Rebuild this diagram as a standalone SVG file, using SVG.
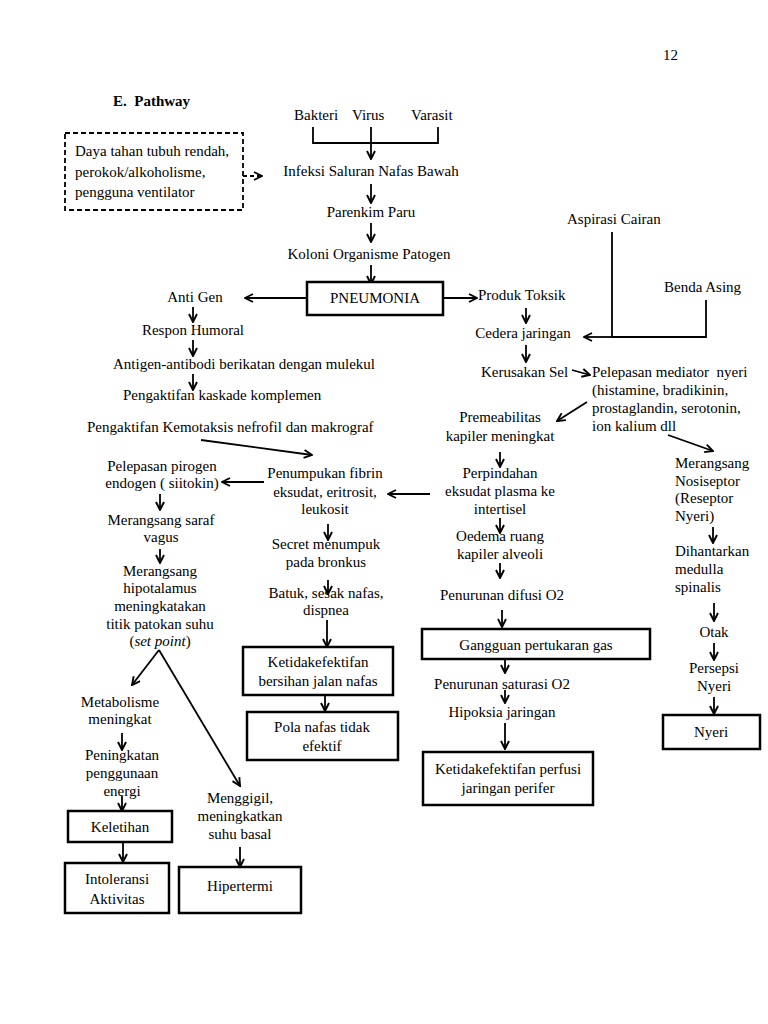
<svg xmlns="http://www.w3.org/2000/svg" width="768" height="1024" viewBox="0 0 768 1024" font-family="'Liberation Serif', 'Times New Roman', 'DejaVu Serif', serif">
<defs>
<marker id="ah" viewBox="0 0 10 10" refX="9" refY="5" markerWidth="10" markerHeight="10" markerUnits="userSpaceOnUse" orient="auto">
<path d="M1,1 L9,5 L1,9" fill="none" stroke="#000" stroke-width="1.9"/>
</marker>
</defs>
<style>
text{font-family:'Liberation Serif','Times New Roman','DejaVu Serif',serif;font-size:15px;fill:#000}
.c{text-anchor:middle}
.b{font-weight:bold}
.ln{stroke:#000;stroke-width:1.8;fill:none}
.ar{stroke:#000;stroke-width:1.8;fill:none;marker-end:url(#ah)}
.box{fill:#fff;stroke:#000;stroke-width:2.5}
.dash{fill:none;stroke:#000;stroke-width:1.8;stroke-dasharray:5,3}
</style>
<rect width="768" height="1024" fill="#fff"/>
<text x="663" y="60">12</text>
<text x="113" y="106" class="b" xml:space="preserve">E.  Pathway</text>

<g id="connectors">
<path class="ln" d="M313,127 V143 H438 V127"/>
<path class="ar" d="M371,127 V159"/>
<path class="ar" d="M243,176 H262" stroke-dasharray="4,3"/>
<path class="ar" d="M371,184 V203"/>
<path class="ar" d="M371,223 V242"/>
<path class="ar" d="M371,265 V284"/>
<path class="ar" d="M307,298 H245"/>
<path class="ar" d="M443,298 H477"/>
<path class="ar" d="M193,307 V322"/>
<path class="ar" d="M193,340 V356"/>
<path class="ar" d="M193,374 V390"/>
<path class="ar" d="M201,440 L312,455"/>
<path class="ar" d="M264,482 H222"/>
<path class="ar" d="M430,494 H388"/>
<path class="ar" d="M160,494 V510"/>
<path class="ar" d="M160,549 V563"/>
<path class="ar" d="M159,650 L240,786"/>
<path class="ar" d="M159,650 L132,685"/>
<path class="ar" d="M122,733 V750"/>
<path class="ar" d="M122,796 V811"/>
<path class="ar" d="M123,842 V862"/>
<path class="ar" d="M240,847 V867"/>
<path class="ar" d="M328,524 V540"/>
<path class="ar" d="M328,580 V594"/>
<path class="ar" d="M327,620 V647"/>
<path class="ar" d="M325,696 V711"/>
<path class="ar" d="M526,308 V323"/>
<path class="ar" d="M526,345 V362"/>
<path class="ar" d="M572,370 L590,375"/>
<path class="ln" d="M612,232 V337 M706,300 V337 H612"/>
<path class="ar" d="M612,337 H584"/>
<path class="ar" d="M587,402 L557,421"/>
<path class="ar" d="M668,435 L713,451"/>
<path class="ar" d="M500,452 V467"/>
<path class="ar" d="M500,518 V533"/>
<path class="ar" d="M500,563 V578"/>
<path class="ar" d="M502,610 V627"/>
<path class="ar" d="M505,660 V673"/>
<path class="ar" d="M505,690 V703"/>
<path class="ar" d="M505,723 V749"/>
<path class="ar" d="M713,527 V543"/>
<path class="ar" d="M714,603 V621"/>
<path class="ar" d="M714,643 V660"/>
<path class="ar" d="M714,697 V714"/>
</g>

<g id="n-sources">
<text x="294" y="120">Bakteri</text>
<text x="352" y="120">Virus</text>
<text x="411" y="120">Varasit</text>
</g>
<g id="n-risk">
<rect x="65" y="133" width="178" height="77" class="dash"/>
<text x="75" y="156">Daya tahan tubuh rendah,</text>
<text x="75" y="177">perokok/alkoholisme,</text>
<text x="75" y="197">pengguna ventilator</text>
</g>
<g id="n-infeksi"><text x="371" y="176" class="c">Infeksi Saluran Nafas Bawah</text></g>
<g id="n-parenkim"><text x="371" y="217" class="c">Parenkim Paru</text></g>
<g id="n-koloni"><text x="369" y="259" class="c">Koloni Organisme Patogen</text></g>
<g id="n-pneumonia">
<rect x="307" y="282" width="136" height="33" class="box"/>
<text x="375" y="303" class="c">PNEUMONIA</text>
</g>
<g id="n-antigen"><text x="195" y="302" class="c">Anti Gen</text></g>
<g id="n-humoral"><text x="193" y="335" class="c">Respon Humoral</text></g>
<g id="n-antibodi"><text x="113" y="369">Antigen-antibodi berikatan dengan mulekul</text></g>
<g id="n-kaskade"><text x="123" y="400">Pengaktifan kaskade komplemen</text></g>
<g id="n-kemotaksis"><text x="87" y="432">Pengaktifan Kemotaksis nefrofil dan makrograf</text></g>
<g id="n-pirogen">
<text x="162" y="471" class="c">Pelepasan pirogen</text>
<text x="162" y="488" class="c">endogen ( siitokin)</text>
</g>
<g id="n-vagus">
<text x="161" y="525" class="c">Merangsang saraf</text>
<text x="161" y="542" class="c">vagus</text>
</g>
<g id="n-hipotalamus">
<text x="160" y="576" class="c">Merangsang</text>
<text x="160" y="593" class="c">hipotalamus</text>
<text x="160" y="611" class="c">meningkatakan</text>
<text x="160" y="629" class="c">titik patokan suhu</text>
<text x="160" y="646" class="c">(<tspan font-style="italic">set point</tspan>)</text>
</g>
<g id="n-metabolisme">
<text x="120" y="707" class="c">Metabolisme</text>
<text x="120" y="724" class="c">meningkat</text>
</g>
<g id="n-energi">
<text x="122" y="760" class="c">Peningkatan</text>
<text x="122" y="778" class="c">penggunaan</text>
<text x="122" y="796" class="c">energi</text>
</g>
<g id="n-keletihan">
<rect x="68" y="811" width="104" height="31" class="box"/>
<text x="120" y="832" class="c">Keletihan</text>
</g>
<g id="n-intoleransi">
<rect x="65" y="863" width="104" height="50" class="box"/>
<text x="117" y="884" class="c">Intoleransi</text>
<text x="117" y="904" class="c">Aktivitas</text>
</g>
<g id="n-menggigil">
<text x="240" y="803" class="c">Menggigil,</text>
<text x="240" y="821" class="c">meningkatkan</text>
<text x="240" y="839" class="c">suhu basal</text>
</g>
<g id="n-hipertermi">
<rect x="179" y="867" width="122" height="46" class="box"/>
<text x="240" y="891" class="c">Hipertermi</text>
</g>
<g id="n-fibrin">
<text x="325" y="478" class="c">Penumpukan fibrin</text>
<text x="325" y="497" class="c">eksudat, eritrosit,</text>
<text x="325" y="514" class="c">leukosit</text>
</g>
<g id="n-secret">
<text x="326" y="549" class="c">Secret menumpuk</text>
<text x="326" y="567" class="c">pada bronkus</text>
</g>
<g id="n-batuk">
<text x="326" y="598" class="c">Batuk, sesak nafas,</text>
<text x="326" y="615" class="c">dispnea</text>
</g>
<g id="n-bersihan">
<rect x="243" y="647" width="150" height="48" class="box"/>
<text x="318" y="667" class="c">Ketidakefektifan</text>
<text x="318" y="686" class="c">bersihan jalan nafas</text>
</g>
<g id="n-pola">
<rect x="247" y="712" width="151" height="48" class="box"/>
<text x="322" y="732" class="c">Pola nafas tidak</text>
<text x="322" y="751" class="c">efektif</text>
</g>
<g id="n-produk"><text x="478" y="300">Produk Toksik</text></g>
<g id="n-cedera"><text x="523" y="338" class="c">Cedera jaringan</text></g>
<g id="n-kerusakan"><text x="481" y="377">Kerusakan Sel</text></g>
<g id="n-aspirasi"><text x="567" y="224">Aspirasi Cairan</text></g>
<g id="n-benda"><text x="664" y="292">Benda Asing</text></g>
<g id="n-mediator">
<text x="592" y="377" xml:space="preserve">Pelepasan mediator  nyeri</text>
<text x="592" y="395">(histamine, bradikinin,</text>
<text x="592" y="413">prostaglandin, serotonin,</text>
<text x="592" y="431">ion kalium dll</text>
</g>
<g id="n-premeabilitas">
<text x="500" y="422" class="c">Premeabilitas</text>
<text x="500" y="441" class="c">kapiler meningkat</text>
</g>
<g id="n-perpindahan">
<text x="500" y="478" class="c">Perpindahan</text>
<text x="500" y="496" class="c">eksudat plasma ke</text>
<text x="500" y="514" class="c">intertisel</text>
</g>
<g id="n-oedema">
<text x="500" y="541" class="c">Oedema ruang</text>
<text x="500" y="559" class="c">kapiler alveoli</text>
</g>
<g id="n-difusi"><text x="502" y="600" class="c">Penurunan difusi O2</text></g>
<g id="n-gangguan">
<rect x="422" y="629" width="228" height="30" class="box"/>
<text x="536" y="650" class="c">Gangguan pertukaran gas</text>
</g>
<g id="n-saturasi"><text x="502" y="689" class="c">Penurunan saturasi O2</text></g>
<g id="n-hipoksia"><text x="502" y="717" class="c">Hipoksia jaringan</text></g>
<g id="n-perfusi">
<rect x="423" y="752" width="170" height="53" class="box"/>
<text x="508" y="774" class="c">Ketidakefektifan perfusi</text>
<text x="508" y="793" class="c">jaringan perifer</text>
</g>
<g id="n-nosiseptor">
<text x="675" y="468">Merangsang</text>
<text x="675" y="486">Nosiseptor</text>
<text x="675" y="503">(Reseptor</text>
<text x="675" y="521">Nyeri)</text>
</g>
<g id="n-medulla">
<text x="675" y="556">Dihantarkan</text>
<text x="675" y="574">medulla</text>
<text x="675" y="592">spinalis</text>
</g>
<g id="n-otak"><text x="714" y="637" class="c">Otak</text></g>
<g id="n-persepsi">
<text x="714" y="673" class="c">Persepsi</text>
<text x="714" y="691" class="c">Nyeri</text>
</g>
<g id="n-nyeri">
<rect x="663" y="715" width="97" height="34" class="box"/>
<text x="711" y="737" class="c">Nyeri</text>
</g>
</svg>
